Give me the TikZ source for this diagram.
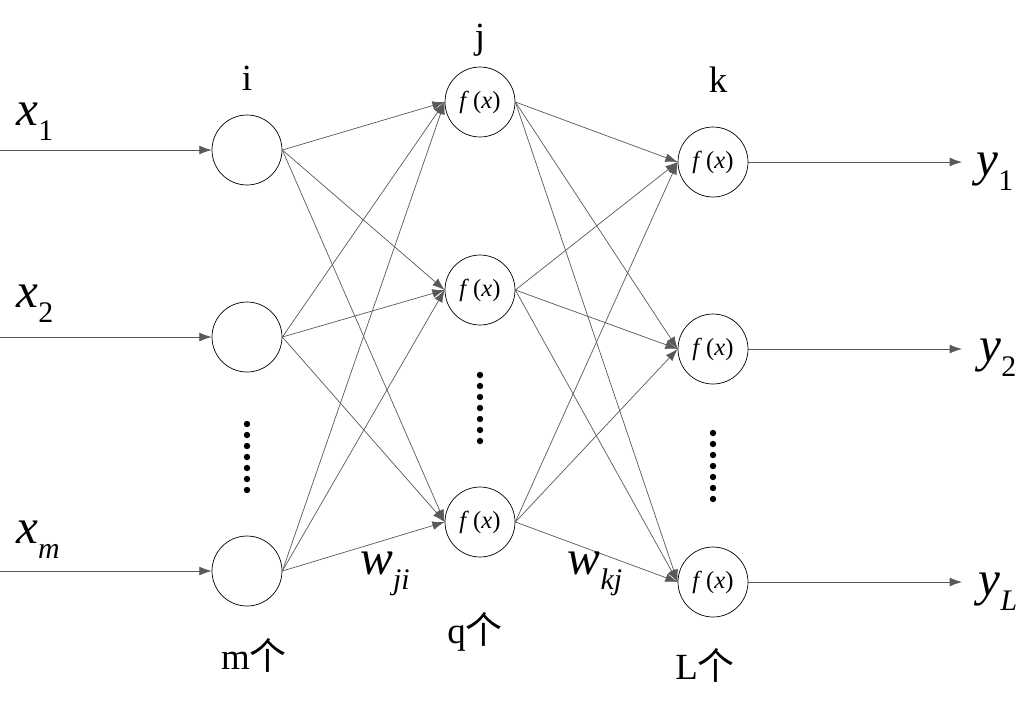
\documentclass[tikz,border=0pt]{standalone}
\usepackage{fontspec}
\setmainfont{Liberation Serif}
\newfontfamily\cjk{Noto Sans CJK SC}
\usetikzlibrary{arrows.meta}
\newcommand{\sub}[2]{\textit{#1}\raisebox{-0.3em}{\fontsize{17}{17}\selectfont#2}}
\newcommand{\fx}{\textit{f}\,(\textit{x})}
\tikzset{
  neuron/.style={circle, draw, minimum size=1.4cm, inner sep=0pt, font=\fontsize{14}{14}\selectfont},
  conn/.style={draw=black!65, -{Latex[length=7pt,width=5pt]}},
  lbl/.style={font=\fontsize{21}{21}\selectfont},
  var/.style={font=\fontsize{28}{28}\selectfont}
}
\begin{document}
\begin{tikzpicture}[x=0.02cm, y=-0.02cm]
   \useasboundingbox (0,0) rectangle (1027,701);
   % Place nodes
   \node [neuron] (i1) at (247,150) {};
   \node [neuron] (i2) at (247,337) {};
   \node [neuron] (i3) at (247,571) {};
   \node [neuron] (h1) at (480,102) {\fx};
   \node [neuron] (h2) at (480,290) {\fx};
   \node [neuron] (h3) at (480,522) {\fx};
   \node [neuron] (o1) at (713,162) {\fx};
   \node [neuron] (o2) at (713,349) {\fx};
   \node [neuron] (o3) at (713,582) {\fx};
   % inputs and outputs
   \coordinate (in1) at (0,150);
   \coordinate (in2) at (0,337);
   \coordinate (in3) at (0,571);
   \coordinate (out1) at (962,162);
   \coordinate (out2) at (962,349);
   \coordinate (out3) at (962,582);
   \foreach \n in {1,2,3} {
     \draw[conn] (in\n) -- (i\n);
     \draw[conn] (o\n) -- (out\n);
   }
   % weights
   \foreach \a in {1,2,3}
     \foreach \b in {1,2,3} {
       \draw[conn] (i\a.east) -- (h\b.west);
       \draw[conn] (h\a.east) -- (o\b.west);
     }
   % dots
   \foreach \k in {0,...,6} {
     \fill (247,424+\k*11) circle (3.2);
     \fill (480,375+\k*11) circle (3.2);
     \fill (713,433+\k*11) circle (3.2);
   }
   % labels
   \node [var] (x1) at (35,122) {\sub{x}{1}};
   \node [var] (x2) at (35,304) {\sub{x}{2}};
   \node [var] (xm) at (38,540) {\sub{x}{\textit{m}}};
   \node [var] (y1) at (995,172) {\sub{y}{1}};
   \node [var] (y2) at (998,358) {\sub{y}{2}};
   \node [var] (yL) at (998,592) {\sub{y}{\textit{L}}};
   \node [lbl] (li) at (247,78) {i};
   \node [lbl] (lj) at (480,40) {j};
   \node [lbl] (lk) at (718,80) {k};
   \node [lbl] (lm) at (254,655) {m{\cjk 个}};
   \node [lbl] (lq) at (475,632) {q{\cjk 个}};
   \node [lbl] (lL) at (705,665) {L{\cjk 个}};
   \node [var] (wji) at (385,574) {\sub{w}{\textit{ji}}};
   \node [var] (wkj) at (595,574) {\sub{w}{\textit{kj}}};
\end{tikzpicture}
\end{document}
